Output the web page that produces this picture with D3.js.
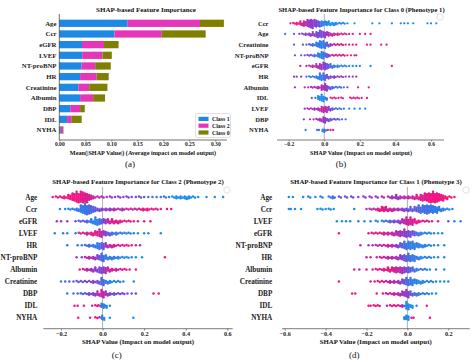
<!DOCTYPE html>
<html><head><meta charset="utf-8">
<script src="https://cdn.jsdelivr.net/npm/d3@7/dist/d3.min.js"></script>
<style>
html,body{margin:0;padding:0;background:#fff;}
svg text{font-family:"Liberation Serif","Times New Roman",serif;}
</style></head>
<body><svg id="chart" width="474" height="364"></svg>
<script>
// ---------- Panel (a): mean |SHAP| per class ----------
const barFeatures = ["Age","Ccr","eGFR","LVEF","NT-proBNP","HR","Creatinine","Albumin","DBP","IDL","NYHA"];
const barClass1 = [0.1315,0.106,0.0437,0.044,0.043,0.040,0.0365,0.040,0.021,0.015,0.003];
const barClass2 = [0.139,0.091,0.0423,0.039,0.026,0.032,0.021,0.025,0.019,0.009,0.004];
const barClass0 = [0.046,0.0845,0.028,0.018,0.030,0.023,0.035,0.023,0.009,0.019,0.001];
const barClassNames = ["Class 1","Class 2","Class 0"];
const barTicks = [0,0.05,0.10,0.15,0.20,0.25,0.30];

// ---------- Beeswarm panels: entries [SHAP value, dot count, feature value (0=low,1=high)] ----------
const class0Features = ["Ccr","Age","Creatinine","NT-proBNP","eGFR","HR","Albumin","IDL","LVEF","DBP","NYHA"];
const class0Swarm = [
 [[-0.19,1,1],[-0.17,2,1],[-0.15,3,1],[-0.13,5,0.9],[-0.11,7,0.8],[-0.09,10,0.6],[-0.07,12,0.5],[-0.05,10,0.5],[-0.03,8,0.3],[-0.01,7,0.1],[0.01,6,0.05],[0.03,5,0],[0.05,4,0],[0.07,3,0],[0.09,2,0.1],[0.11,2,0],[0.13,1,0],[0.17,1,0],[0.27,1,0],[0.31,1,0],[0.38,1,0],[0.43,1,0],[0.45,1,0.2],[0.47,1,0],[0.5,1,0],[0.58,1,0],[0.6,1,0.1],[0.63,1,0]],
 [[-0.22,1,0.2],[-0.17,1,0.3],[-0.14,1,0.5],[-0.12,2,0.4],[-0.1,3,0.5],[-0.08,4,0.6],[-0.06,5,0.5],[-0.04,8,0.4],[-0.02,10,0.4],[0,8,0.5],[0.02,6,0.7],[0.04,4,0.8],[0.06,3,0.8],[0.08,3,0.9],[0.1,2,0.9],[0.12,2,0.8],[0.14,1,0.9],[0.16,1,0.9],[0.2,1,1],[0.23,1,0.9],[0.26,1,1]],
 [[-0.17,1,0.3],[-0.12,1,0.4],[-0.1,1,0.3],[-0.08,2,0.3],[-0.06,3,0.2],[-0.04,6,0.1],[-0.02,10,0.1],[0,9,0.1],[0.02,5,0.3],[0.04,3,0.6],[0.06,2,0.8],[0.08,2,0.9],[0.1,2,0.9],[0.12,1,1],[0.14,1,0.9],[0.16,1,1],[0.18,1,1],[0.24,1,1],[0.26,1,1],[0.32,1,1],[0.35,1,1]],
 [[-0.165,1,0.4],[-0.13,1,0.3],[-0.11,1,0.5],[-0.09,2,0.4],[-0.07,2,0.3],[-0.05,3,0.2],[-0.03,6,0.1],[-0.01,10,0.1],[0.01,6,0.2],[0.03,3,0.6],[0.05,2,0.8],[0.07,2,0.9],[0.09,2,0.8],[0.11,2,0.9],[0.13,1,0.9],[0.15,1,1],[0.17,1,1],[0.18,1,0.9]],
 [[-0.135,1,0.8],[-0.1,1,0.8],[-0.08,2,0.7],[-0.06,3,0.8],[-0.04,5,0.7],[-0.02,8,0.6],[0,10,0.5],[0.02,7,0.3],[0.04,5,0.2],[0.06,3,0.1],[0.08,3,0.1],[0.1,2,0],[0.12,2,0.1],[0.14,1,0],[0.16,1,0],[0.18,1,0.1],[0.2,1,0],[0.26,1,0],[0.38,1,0.9]],
 [[-0.17,1,0.5],[-0.155,1,0.4],[-0.13,1,0.5],[-0.1,1,0.2],[-0.08,2,0.1],[-0.06,2,0.2],[-0.04,4,0.1],[-0.02,9,0.1],[0,9,0.2],[0.02,5,0.4],[0.04,3,0.4],[0.06,3,0.5],[0.08,2,0.6],[0.1,2,0.5],[0.12,1,0.6],[0.14,1,0.5],[0.16,1,0.4],[0.18,1,0.5]],
 [[-0.165,1,0.6],[-0.11,1,0.8],[-0.09,1,0.7],[-0.07,2,0.6],[-0.05,2,0.7],[-0.03,3,0.6],[-0.01,7,0.7],[0.01,9,0.6],[0.03,4,0.3],[0.05,3,0.2],[0.07,2,0.1],[0.09,2,0.2],[0.11,1,0.1],[0.13,1,0.6],[0.19,1,1],[0.25,1,0.9]],
 [[-0.07,1,0.3],[-0.05,1,0.1],[-0.03,6,0],[-0.01,9,0],[0.01,4,0.1],[0.04,2,0.9],[0.06,2,0.9],[0.08,1,1],[0.1,2,0.9],[0.15,2,1],[0.17,2,1],[0.19,2,0.9],[0.21,1,1],[0.24,1,1]],
 [[-0.11,1,0.5],[-0.09,2,0.6],[-0.07,2,0.7],[-0.05,3,0.6],[-0.03,4,0.7],[-0.01,8,0.8],[0.01,8,0.7],[0.03,5,0.5],[0.05,3,0.3],[0.07,2,0.2],[0.09,2,0.1],[0.11,1,0.2],[0.14,1,0],[0.17,1,0.1],[0.2,1,0],[0.23,1,0]],
 [[-0.115,1,0.5],[-0.08,1,0.6],[-0.06,1,0.7],[-0.04,2,0.7],[-0.02,4,0.6],[0,8,0.6],[0.02,4,0.4],[0.04,3,0.3],[0.06,2,0.4],[0.08,2,0.3],[0.1,1,0.3],[0.12,1,0.2]],
 [[-0.105,1,0],[-0.04,1,0.1],[-0.03,1,0.2],[-0.005,4,0],[0.005,3,0.1],[0.02,1,0.8],[0.035,1,1],[0.05,1,0.9]]
];
const class0Ticks = [-0.2,0,0.2,0.4,0.6];

const class2Features = ["Age","Ccr","eGFR","LVEF","HR","NT-proBNP","Albumin","Creatinine","DBP","IDL","NYHA"];
const class2Swarm = [
 [[-0.24,1,1],[-0.22,2,1],[-0.2,2,1],[-0.18,3,1],[-0.16,6,1],[-0.14,10,1],[-0.12,13,1],[-0.1,14,0.95],[-0.08,12,0.9],[-0.06,7,0.9],[-0.04,3,0.8],[-0.02,2,0.8],[0,2,0.7],[0.02,1,0.6],[0.04,2,0.6],[0.06,1,0.5],[0.08,2,0.5],[0.1,1,0.4],[0.12,2,0.5],[0.14,1,0.4],[0.16,1,0.4],[0.18,2,0.3],[0.2,1,0.3],[0.22,1,0.2],[0.24,1,0.2],[0.26,1,0.1],[0.28,1,0.2],[0.3,2,0.1],[0.32,1,0.1],[0.34,2,0],[0.36,3,0],[0.38,3,0],[0.4,4,0],[0.42,3,0],[0.44,2,0],[0.46,1,0],[0.5,1,0],[0.54,1,0],[0.58,1,0]],
 [[-0.205,1,0],[-0.18,1,0],[-0.16,2,0],[-0.14,2,0.1],[-0.12,4,0.1],[-0.1,10,0.1],[-0.08,13,0.15],[-0.06,11,0.2],[-0.04,7,0.3],[-0.02,4,0.4],[0,3,0.5],[0.02,3,0.6],[0.04,3,0.6],[0.06,3,0.7],[0.08,2,0.7],[0.1,3,0.7],[0.12,2,0.8],[0.14,2,0.8],[0.16,2,0.8],[0.18,2,0.9],[0.2,3,1],[0.22,3,0.9],[0.24,2,1],[0.26,2,0.9],[0.28,1,1],[0.31,1,1],[0.33,1,1]],
 [[-0.22,1,0.7],[-0.2,1,0.6],[-0.17,1,0.5],[-0.13,1,0.4],[-0.11,2,0.3],[-0.09,2,0.3],[-0.07,3,0.2],[-0.05,5,0.1],[-0.03,9,0.05],[-0.01,7,0.2],[0.01,6,0.5],[0.03,5,0.8],[0.05,5,0.9],[0.07,4,0.9],[0.09,3,1],[0.11,2,0.9],[0.13,2,1],[0.15,1,1],[0.17,1,0.9],[0.2,1,1],[0.23,1,1]],
 [[-0.23,1,0],[-0.19,1,0.1],[-0.17,1,0],[-0.13,1,0.1],[-0.11,2,0.8],[-0.09,2,0.9],[-0.07,3,0.8],[-0.05,4,0.9],[-0.03,6,0.9],[-0.01,9,0.8],[0.01,6,0.5],[0.03,4,0.3],[0.05,3,0.2],[0.07,3,0.1],[0.09,2,0.2],[0.11,2,0.1],[0.13,2,0],[0.15,1,0.1],[0.17,1,0],[0.2,1,0],[0.22,1,0],[0.28,1,0]],
 [[-0.17,1,0.1],[-0.12,1,0.2],[-0.1,1,0.1],[-0.08,2,0.2],[-0.06,3,0.2],[-0.04,4,0.1],[-0.02,8,0.1],[0,8,0.3],[0.02,5,0.6],[0.04,4,0.8],[0.06,3,0.9],[0.08,2,0.9],[0.1,2,1],[0.12,2,0.9],[0.14,1,1],[0.16,1,1],[0.18,1,0.9]],
 [[-0.125,1,0.6],[-0.1,1,0.5],[-0.08,2,0.7],[-0.06,3,0.7],[-0.04,4,0.6],[-0.02,6,0.4],[0,9,0.2],[0.02,5,0.1],[0.04,4,0.1],[0.06,3,0.1],[0.08,3,0],[0.1,2,0.1],[0.12,2,0],[0.14,1,0],[0.16,1,0],[0.19,1,0],[0.3,1,1]],
 [[-0.11,1,1],[-0.09,2,0.9],[-0.07,3,0.7],[-0.05,4,0.6],[-0.03,5,0.5],[-0.01,8,0.4],[0.01,8,0.6],[0.03,5,0.8],[0.05,3,0.9],[0.07,3,0.8],[0.09,2,0.9],[0.11,2,1],[0.13,1,0.9],[0.16,1,1]],
 [[-0.2,1,0.1],[-0.18,1,0.2],[-0.16,1,0.3],[-0.14,1,0.2],[-0.12,2,0.4],[-0.1,2,0.3],[-0.08,2,0.5],[-0.06,2,0.4],[-0.04,3,0.5],[-0.02,4,0.4],[0,9,0.2],[0.02,4,0.1],[0.04,3,0],[0.06,2,0],[0.08,2,0.1],[0.1,1,0],[0.15,1,0]],
 [[-0.17,1,0.2],[-0.14,1,0.1],[-0.12,1,0.3],[-0.1,2,0.2],[-0.08,2,0.3],[-0.06,3,0.4],[-0.04,4,0.5],[-0.02,5,0.7],[0,9,0.8],[0.02,5,0.6],[0.04,3,0.4],[0.06,3,0.3],[0.08,2,0.4],[0.1,2,0.5],[0.12,1,0.4],[0.14,1,0.3],[0.16,1,0.6],[0.245,1,1],[0.27,1,1]],
 [[-0.135,1,1],[-0.12,1,1],[-0.09,1,0.9],[-0.05,1,1],[-0.03,2,0.9],[-0.015,2,1],[0,6,0.1],[0.015,4,0],[0.035,1,0]],
 [[-0.117,1,1],[-0.06,1,0.9],[-0.03,2,1],[-0.01,2,0.8],[0.003,5,0],[0.035,1,0],[0.148,1,0]]
];
const class2Ticks = [-0.2,0,0.2,0.4,0.6];

const class1Features = ["Age","Ccr","LVEF","eGFR","NT-proBNP","HR","Albumin","Creatinine","DBP","IDL","NYHA"];
const class1Swarm = [
 [[-0.58,1,0],[-0.56,1,0],[-0.51,1,0],[-0.48,2,0],[-0.45,1,0],[-0.42,2,0.1],[-0.38,2,0.1],[-0.36,3,0.2],[-0.33,2,0.3],[-0.3,2,0.3],[-0.27,2,0.4],[-0.24,1,0.5],[-0.21,2,0.5],[-0.18,2,0.6],[-0.15,2,0.6],[-0.12,2,0.7],[-0.09,2,0.7],[-0.07,3,0.6],[-0.05,5,0.6],[-0.03,3,0.7],[-0.01,3,0.7],[0.01,3,0.8],[0.03,4,0.8],[0.05,5,0.9],[0.07,8,0.9],[0.09,10,0.9],[0.11,12,1],[0.13,13,1],[0.15,11,1],[0.17,8,1],[0.19,4,1],[0.21,2,1],[0.23,1,1]],
 [[-0.58,1,0],[-0.57,1,0],[-0.55,1,0],[-0.52,1,0],[-0.44,1,0],[-0.42,2,0],[-0.4,1,0],[-0.38,2,0],[-0.36,1,0],[-0.26,1,0],[-0.2,1,0.6],[-0.18,2,0.7],[-0.16,2,0.8],[-0.14,4,0.9],[-0.12,6,1],[-0.1,5,0.9],[-0.08,4,0.8],[-0.06,3,0.7],[-0.04,3,0.6],[-0.02,4,0.5],[0,4,0.4],[0.02,5,0.3],[0.04,6,0.3],[0.06,9,0.2],[0.08,10,0.2],[0.1,11,0.15],[0.12,10,0.1],[0.14,8,0.1],[0.16,5,0.1],[0.18,3,0.1],[0.2,2,0],[0.22,1,0]],
 [[-0.345,1,0],[-0.32,1,0],[-0.3,1,0],[-0.28,1,0],[-0.24,1,0.1],[-0.21,1,0],[-0.18,1,0.1],[-0.15,2,0],[-0.12,2,0.1],[-0.1,2,0.2],[-0.08,3,0.3],[-0.06,3,0.4],[-0.04,4,0.5],[-0.02,6,0.7],[0,9,0.8],[0.02,9,0.9],[0.04,5,0.9],[0.06,3,1],[0.08,2,0.9],[0.1,2,1],[0.12,1,0.9],[0.15,1,1],[0.2,1,0.3],[0.23,1,0],[0.26,1,0]],
 [[-0.335,1,1],[-0.19,1,0.9],[-0.17,2,0.9],[-0.15,2,1],[-0.13,2,0.9],[-0.11,3,0.9],[-0.09,3,0.8],[-0.07,4,0.8],[-0.05,6,0.7],[-0.03,7,0.6],[-0.01,9,0.5],[0.01,8,0.4],[0.03,6,0.3],[0.05,4,0.2],[0.07,3,0.1],[0.09,2,0.1],[0.11,2,0],[0.13,1,0.1],[0.15,1,0],[0.17,1,0]],
 [[-0.23,1,0.7],[-0.19,1,0.6],[-0.17,1,0.8],[-0.15,2,0.7],[-0.13,2,0.8],[-0.11,2,0.7],[-0.09,3,0.8],[-0.07,3,0.7],[-0.05,4,0.5],[-0.03,6,0.3],[-0.01,9,0.2],[0.01,10,0.1],[0.03,9,0.1],[0.05,6,0.1],[0.07,4,0],[0.09,3,0.1],[0.11,2,0],[0.13,1,0.1],[0.15,1,0],[0.18,1,0]],
 [[-0.2,1,0.8],[-0.18,1,1],[-0.15,1,0.8],[-0.13,2,0.9],[-0.11,2,0.8],[-0.09,3,0.7],[-0.07,3,0.7],[-0.05,4,0.6],[-0.03,6,0.5],[-0.01,8,0.3],[0.01,9,0.2],[0.03,8,0.1],[0.05,4,0.1],[0.07,3,0],[0.09,2,0.1],[0.11,2,0],[0.13,1,0],[0.15,1,0.1],[0.18,1,0]],
 [[-0.26,1,1],[-0.235,1,0.9],[-0.2,1,1],[-0.17,1,0.8],[-0.15,2,0.9],[-0.13,2,1],[-0.11,3,0.9],[-0.09,5,1],[-0.07,6,0.9],[-0.05,7,0.8],[-0.03,8,0.7],[-0.01,7,0.5],[0.01,7,0.3],[0.03,5,0.2],[0.05,3,0.1],[0.07,2,0.2],[0.09,2,0.1],[0.11,1,0],[0.14,1,0.2],[0.18,1,0]],
 [[-0.335,1,1],[-0.18,1,0.9],[-0.16,1,0.9],[-0.14,2,1],[-0.12,2,0.9],[-0.1,2,0.8],[-0.08,3,0.8],[-0.06,3,0.7],[-0.04,4,0.6],[-0.02,6,0.4],[0,9,0.2],[0.02,9,0.1],[0.04,6,0.1],[0.06,4,0],[0.08,3,0.1],[0.1,2,0],[0.12,2,0],[0.14,1,0.1],[0.16,1,0],[0.18,1,0],[0.2,1,0]],
 [[-0.27,1,1],[-0.255,1,0.9],[-0.15,1,1],[-0.12,1,0.9],[-0.1,2,0.8],[-0.08,2,0.9],[-0.06,3,0.8],[-0.04,4,0.7],[-0.02,6,0.6],[0,9,0.5],[0.02,5,0.3],[0.04,4,0.2],[0.06,3,0.1],[0.08,2,0.2],[0.1,2,0],[0.12,1,0.1],[0.14,1,0]],
 [[-0.19,1,1],[-0.18,1,0.9],[-0.16,2,1],[-0.14,2,1],[-0.1,1,0.9],[-0.08,2,1],[-0.06,2,0.9],[-0.04,2,1],[-0.02,3,0.5],[0,9,0],[0.02,4,0],[0.045,1,0],[0.095,1,1]],
 [[-0.01,3,0.1],[0,6,0],[0.02,1,0.9],[0.03,1,1],[0.11,1,1]]
];
const class1Ticks = [-0.6,-0.4,-0.2,0,0.2];

// ---------- drawing ----------
const svg = d3.select("#chart");
const FONT = '"Liberation Serif","Times New Roman",serif';
const barColors = ["#1e88e5","#e535b8","#808000"];
const featColor = d3.scaleLinear().domain([0,0.5,1]).range(["#1a8cf0","#8a3ad0","#f2157f"]).interpolate(d3.interpolateRgb);

// Panel (a)
(function(){
  const x = d3.scaleLinear().domain([0,0.30]).range([59.3,215.3]);
  const y = d3.scalePoint().domain(barFeatures).range([23.3,130]);
  const bh = y.step()*0.68;
  const g = svg.append("g");
  const stacks = barFeatures.map((f,i)=>{
    const a=barClass1[i], b=barClass2[i], c=barClass0[i];
    return [{f,x0:0,x1:a,k:0},{f,x0:a,x1:a+b,k:1},{f,x0:a+b,x1:a+b+c,k:2}];
  }).flat();
  g.selectAll("rect.bar").data(stacks).join("rect").attr("class","bar")
    .attr("x",d=>x(d.x0)).attr("width",d=>x(d.x1)-x(d.x0))
    .attr("y",d=>y(d.f)-bh/2).attr("height",bh).attr("fill",d=>barColors[d.k]);
  const axY = 140;
  g.append("line").attr("x1",x(0)).attr("x2",x(0)).attr("y1",14).attr("y2",axY).attr("stroke","#333").attr("stroke-width",0.7);
  g.append("line").attr("x1",x(0)).attr("x2",x(0.3225)).attr("y1",axY).attr("y2",axY).attr("stroke","#333").attr("stroke-width",0.7);
  const ax = g.append("g").attr("transform",`translate(0,${axY})`)
    .call(d3.axisBottom(x).tickValues(barTicks).tickFormat(d3.format(".2f")).tickSize(1.5).tickPadding(1));
  ax.select(".domain").remove();
  ax.selectAll("line").attr("stroke","#333").attr("stroke-width",0.6);
  ax.selectAll("text").attr("font-family",FONT).attr("font-size",5.6).attr("font-weight","bold").attr("fill","#222");
  g.selectAll("text.lab").data(barFeatures).join("text").attr("class","lab")
    .attr("x",56.5).attr("y",d=>y(d)).attr("dy","0.35em").attr("text-anchor","end")
    .attr("font-size",6.8).attr("font-weight","bold").attr("fill","#222").text(d=>d);
  g.append("text").attr("x",146).attr("y",11.5).attr("text-anchor","middle").attr("font-size",7).attr("font-weight","bold").attr("fill","#111").text("SHAP-based Feature Importance");
  g.append("text").attr("x",143).attr("y",154.5).attr("text-anchor","middle").attr("font-size",6.2).attr("font-weight","bold").attr("fill","#111").text("Mean(|SHAP Value|) (Average impact on model output)");
  g.append("text").attr("x",130).attr("y",167).attr("text-anchor","middle").attr("font-size",9).attr("fill","#111").text("(a)");
  const lg = g.append("g");
  lg.append("rect").attr("x",195.5).attr("y",113.5).attr("width",35).attr("height",24).attr("rx",1.5).attr("fill","#fff").attr("stroke","#ccc").attr("stroke-width",0.6);
  barClassNames.forEach((n,i)=>{
    lg.append("rect").attr("x",198.5).attr("y",116.8+i*6.8).attr("width",10).attr("height",4.2).attr("fill",barColors[i]);
    lg.append("text").attr("x",212).attr("y",119+i*6.8).attr("dy","0.35em").attr("font-size",5.8).attr("font-weight","bold").attr("fill","#111").text(n);
  });
})();

function swarmPanel(o){
  const g = svg.append("g");
  const x = d3.scaleLinear().domain(o.dom).range(o.rng);
  const y = d3.scalePoint().domain(o.features).range(o.rows);
  g.append("line").attr("x1",x(0)).attr("x2",x(0)).attr("y1",o.top).attr("y2",o.axisY).attr("stroke","#a8a8a8").attr("stroke-width",0.9);
  const dots=[];
  o.swarm.forEach((entries,ri)=>{
    entries.forEach(([v,n,c])=>{
      for(let k=0;k<n;k++){
        const col = n>1 ? (k%2===0?-1:1) : 0;
        const lvl = Math.floor(k/2);
        const off = lvl===0?0:(lvl%2===1?Math.ceil(lvl/2):-Math.ceil(lvl/2));
        dots.push({f:o.features[ri],v,c,dx:col*o.sub,dy:off*o.dyStep + col*o.dyStep/4});
      }
    });
  });
  g.selectAll("circle").data(dots).join("circle")
    .attr("cx",d=>x(d.v)+d.dx).attr("cy",d=>y(d.f)+d.dy).attr("r",o.r)
    .attr("fill",d=>featColor(d.c));
  g.append("line").attr("x1",o.spine[0]).attr("x2",o.spine[1]).attr("y1",o.axisY).attr("y2",o.axisY).attr("stroke","#444").attr("stroke-width",0.7);
  const ax = g.append("g").attr("transform",`translate(0,${o.axisY})`)
    .call(d3.axisBottom(x).tickValues(o.ticks).tickFormat(d3.format(".1f")).tickSize(o.tickLen).tickPadding(o.tickPad));
  ax.select(".domain").remove();
  ax.selectAll("line").attr("stroke","#444").attr("stroke-width",0.6);
  ax.selectAll("text").attr("font-family",FONT).attr("font-size",o.tickFs).attr("font-weight","bold").attr("fill","#222");
  g.selectAll("text.lab").data(o.features).join("text").attr("class","lab")
    .attr("x",o.labX).attr("y",d=>y(d)).attr("dy","0.35em").attr("text-anchor","end")
    .attr("font-size",o.labFs).attr("font-weight","bold").attr("fill","#222").text(d=>d);
  g.append("text").attr("x",o.titleX).attr("y",o.titleY).attr("text-anchor","middle").attr("font-size",o.titleFs).attr("font-weight","bold").attr("fill","#111").text(o.title);
  g.append("text").attr("x",o.xlabX).attr("y",o.xlabY).attr("text-anchor","middle").attr("font-size",o.xlabFs).attr("font-weight","bold").attr("fill","#111").text("SHAP Value (Impact on model output)");
  g.append("text").attr("x",o.capX).attr("y",o.capY).attr("text-anchor","middle").attr("font-size",9).attr("fill","#111").text(o.cap);
  g.append("circle").attr("cx",o.circ[0]).attr("cy",o.circ[1]).attr("r",3.2).attr("fill","none").attr("stroke","#e2e2e2").attr("stroke-width",1);
}

swarmPanel({features:class0Features, swarm:class0Swarm, ticks:class0Ticks,
  dom:[-0.2,0.6], rng:[288.7,431], rows:[23.3,130], top:14, axisY:140, spine:[277,444],
  r:1.15, sub:0.85, dyStep:1.5, labX:268.5, labFs:6.6, tickFs:5.6, tickLen:1.5, tickPad:1, titleFs:6.6,
  title:"SHAP-based Feature Importance for Class 0 (Phenotype 1)", titleX:361.5, titleY:11.5,
  xlabX:361, xlabY:154.5, xlabFs:6.2, cap:"(b)", capX:341, capY:167, circ:[440,17]});

swarmPanel({features:class2Features, swarm:class2Swarm, ticks:class2Ticks,
  dom:[-0.2,0.6], rng:[61,227.3], rows:[197,317.7], top:187, axisY:328.7, spine:[43.3,232.7],
  r:1.25, sub:1.0, dyStep:1.6, labX:37.3, labFs:7.2, tickFs:6.2, tickLen:2, tickPad:1.2, titleFs:6.8,
  title:"SHAP-based Feature Importance for Class 2 (Phenotype 2)", titleX:138, titleY:184,
  xlabX:138, xlabY:344, xlabFs:6.8, cap:"(c)", capX:116.7, capY:358, circ:[227,190]});

swarmPanel({features:class1Features, swarm:class1Swarm, ticks:class1Ticks,
  dom:[-0.6,0.2], rng:[284.7,448.3], rows:[197,317.7], top:187, axisY:328.7, spine:[282,469.7],
  r:1.25, sub:1.0, dyStep:1.6, labX:272.3, labFs:7.2, tickFs:6.2, tickLen:2, tickPad:1.2, titleFs:6.8,
  title:"SHAP-based Feature Importance for Class 1 (Phenotype 3)", titleX:376, titleY:184,
  xlabX:375.7, xlabY:344, xlabFs:6.8, cap:"(d)", capX:354.3, capY:358, circ:[466,190]});
</script>
</body></html>
